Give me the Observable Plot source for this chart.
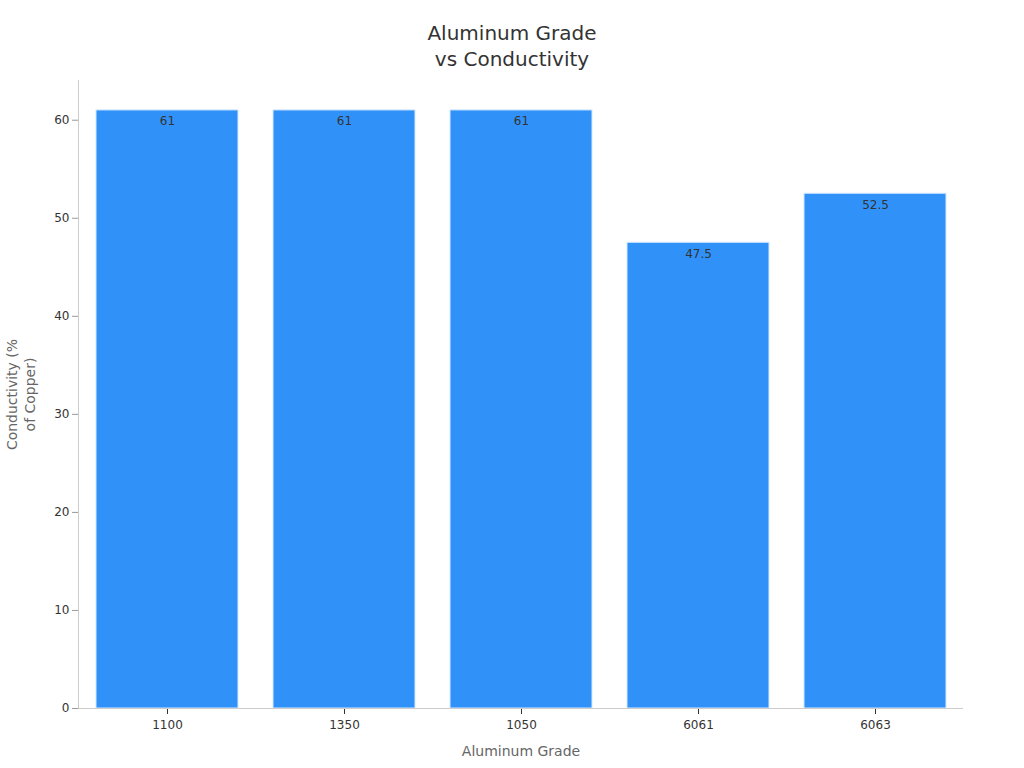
<!DOCTYPE html>
<html>
<head>
<meta charset="utf-8">
<script src="https://cdn.jsdelivr.net/npm/d3@7"></script>
<script src="https://cdn.jsdelivr.net/npm/@observablehq/plot@0.6"></script>
<style>
  body { margin: 0; background: #fff; font-family: "DejaVu Sans", sans-serif; }
  #wrap { position: relative; width: 1024px; height: 768px; }
  #title { position: absolute; left: 0; top: 20px; width: 1024px; text-align: center;
           font-size: 20px; line-height: 26px; color: #333; }
  #chart { position: absolute; left: 0; top: 0; }
</style>
</head>
<body>
<div id="wrap">
  <div id="chart"></div>
  <div id="title">Aluminum Grade<br>vs Conductivity</div>
</div>
<script>
const grades = ["1100", "1350", "1050", "6061", "6063"];
const conductivity = [61, 61, 61, 47.5, 52.5];
const yTicks = [0, 10, 20, 30, 40, 50, 60];
const xLabel = "Aluminum Grade";
const yLabel = "Conductivity (%\nof Copper)";

const data = grades.map((g, i) => ({grade: g, value: conductivity[i]}));

const chart = Plot.plot({
  width: 1024,
  height: 768,
  marginTop: 80,
  marginBottom: 60,
  marginLeft: 78,
  marginRight: 61,
  style: {fontFamily: "DejaVu Sans, sans-serif", fontSize: "12px", color: "#333"},
  x: {domain: grades, paddingInner: 0.2, paddingOuter: 0.1, label: null},
  y: {domain: [0, 64.05], label: null},
  marks: [
    Plot.barY(data, {x: "grade", y: "value", fill: "#3092f9", stroke: "#d6e9ff", strokeWidth: 1}),
    Plot.frame({anchor: "left", stroke: "#ccc"}),
    Plot.axisY({ticks: yTicks, tickSize: 6, tickPadding: 3, stroke: "#999", fill: "#333", fontSize: 12, label: null}),
    Plot.axisX({tickSize: 6, tickPadding: 6, stroke: "#333", fill: "#333", fontSize: 12, label: null}),
    Plot.ruleY([0], {stroke: "#ccc"}),
    Plot.text(data, {x: "grade", y: "value", text: d => String(d.value), dy: 11, fill: "#333", fontSize: 12}),
    Plot.text([xLabel], {frameAnchor: "bottom", dy: 47, fill: "#666", fontSize: 14}),
    Plot.text([yLabel], {frameAnchor: "left", textAnchor: "middle", dx: -58, rotate: -90, fill: "#666", fontSize: 14, lineHeight: 1.3})
  ]
});
document.getElementById("chart").appendChild(chart);
</script>
</body>
</html>
